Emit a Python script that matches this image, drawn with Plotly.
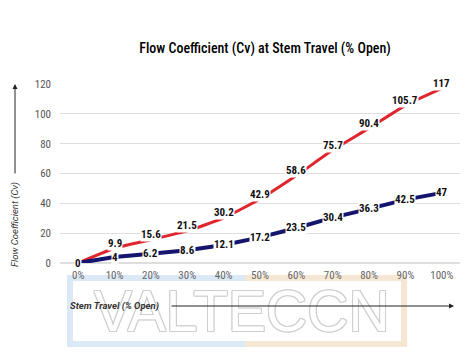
import plotly.graph_objects as go

categories = ["0%", "10%", "20%", "30%", "40%", "50%", "60%", "70%", "80%", "90%", "100%"]
cv_high = [0, 9.9, 15.6, 21.5, 30.2, 42.9, 58.6, 75.7, 90.4, 105.7, 117]
cv_low = [0, 4, 6.2, 8.6, 12.1, 17.2, 23.5, 30.4, 36.3, 42.5, 47]
y_ticks = [0, 20, 40, 60, 80, 100, 120]

W, H = 474, 355
L, R, T, B = 60, 14, 84, 92
PW, PH = W - L - R, H - T - B

def px(x):
    return (x - L) / PW

def py(y):
    return (H - B - y) / PH

COND = "Roboto Condensed, DejaVu Sans Condensed, sans-serif"
SANS = "Roboto, Liberation Sans, sans-serif"
RED = "#e0262c"
NAVY = "#15156e"

fig = go.Figure()
fig.add_trace(go.Scatter(x=categories, y=cv_high, mode="lines",
                         line=dict(color=RED, width=3, shape="spline", smoothing=0.5),
                         hoverinfo="skip", showlegend=False))
fig.add_trace(go.Scatter(x=categories, y=cv_low, mode="lines",
                         line=dict(color=NAVY, width=4),
                         hoverinfo="skip", showlegend=False))

annotations = []
# watermark (first so everything else draws over it)
oc = "#cfcfcf"
annotations.append(dict(x=px(242), y=py(311), xref="paper", yref="paper", text="VALTECCN",
                        xanchor="center", yanchor="middle", showarrow=False,
                        font=dict(family="Liberation Sans, Arial, sans-serif", size=57, color="white",
                                  shadow=f"1px 0 0 {oc}, -1px 0 0 {oc}, 0 1px 0 {oc}, 0 -1px 0 {oc}, "
                                         f"1px 1px 0 {oc}, -1px -1px 0 {oc}, 1px -1px 0 {oc}, -1px 1px 0 {oc}")))

for c, v in zip(categories, cv_high):
    if v == 0:
        continue
    annotations.append(dict(x=c, y=v, xref="x", yref="y", text=str(v), showarrow=False,
                            xanchor="center", yanchor="middle",
                            yshift=5, bgcolor="white", borderpad=0,
                            font=dict(family=COND, size=11, color="#111", weight="bold")))
for c, v in zip(categories, cv_low):
    annotations.append(dict(x=c, y=v, xref="x", yref="y", text=str(v), showarrow=False,
                            xanchor="center", yanchor="middle",
                            bgcolor="white", borderpad=0,
                            font=dict(family=COND, size=11, color="#111", weight="bold")))

# axis titles with arrows
annotations.append(dict(x=px(15), y=py(84), xref="paper", yref="paper", text="",
                        showarrow=True, ax=0, ay=91, arrowhead=2, arrowsize=1,
                        arrowwidth=1, arrowcolor="#222"))
annotations.append(dict(x=px(15), y=py(225), xref="paper", yref="paper",
                        xanchor="center", yanchor="middle",
                        text="<i>Flow Coefficient (Cv)</i>", textangle=-90, showarrow=False,
                        font=dict(family=SANS, size=9.5, color="#333")))
annotations.append(dict(x=px(114), y=py(306), xref="paper", yref="paper",
                        xanchor="center", yanchor="middle",
                        text="<b><i>Stem Travel (% Open)</i></b>", showarrow=False,
                        font=dict(family=SANS, size=9.5, color="#333")))
annotations.append(dict(x=px(454), y=py(306), xref="paper", yref="paper", text="",
                        showarrow=True, ax=-284, ay=0, arrowhead=2, arrowsize=1,
                        arrowwidth=1, arrowcolor="#222"))

shapes = [
    dict(type="path", xref="paper", yref="paper", layer="below",
         path=f"M {px(245)},{py(278)} L {px(70)},{py(278)} L {px(70)},{py(344)} L {px(245)},{py(344)}",
         line=dict(color="#dbe8f5", width=6)),
    dict(type="path", xref="paper", yref="paper", layer="below",
         path=f"M {px(245)},{py(278)} L {px(404)},{py(278)} L {px(404)},{py(344)} L {px(245)},{py(344)}",
         line=dict(color="#f6e7d4", width=6)),
]

fig.update_layout(
    width=W, height=H,
    margin=dict(l=L, r=R, t=T, b=B),
    paper_bgcolor="white", plot_bgcolor="white",
    title=dict(text="Flow Coefficient (Cv) at Stem Travel (% Open)", x=265 / W, xanchor="center",
               y=1 - 48 / H, yanchor="middle",
               font=dict(family=COND, size=14, color="#000", weight=500)),
    xaxis=dict(type="category", range=[-0.5, len(categories) - 0.5], showgrid=False,
               showline=False, zeroline=False, ticks="", ticklabelstandoff=4,
               tickfont=dict(family=COND, size=11, color="#666")),
    yaxis=dict(range=[0, 120], tickvals=y_ticks, showgrid=True, gridcolor="#dedede",
               gridwidth=1, zeroline=True, zerolinecolor="#dedede", showline=False, ticks="",
               ticklabelstandoff=8,
               tickfont=dict(family=COND, size=11, color="#555")),
    annotations=annotations,
    shapes=shapes,
)

fig.write_html("out.html", config={"displayModeBar": False},
               post_script="document.body.style.margin='0px';")
